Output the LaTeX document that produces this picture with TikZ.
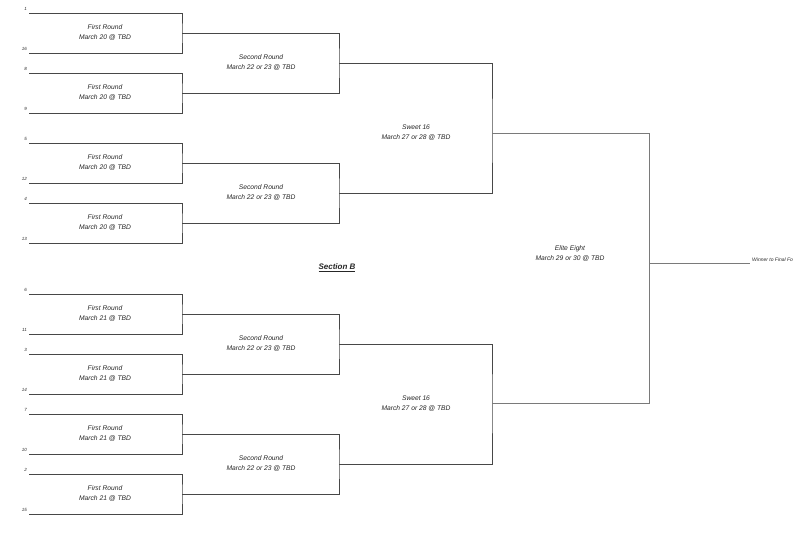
\documentclass[tikz,border=0pt]{standalone}
\usepackage{fontspec}
\setmainfont{Liberation Sans}
\usepackage{tikz}

\begin{document}
\begin{tikzpicture}[x=1pt,y=-1pt,
  bracket/.style={draw=black!72,line width=1.0pt},
  lastline/.style={draw=black!52,line width=1.0pt},
  game/.style={font=\fontsize{6.7}{10}\selectfont\itshape,align=center,text=black!85,inner sep=0pt},
  seed/.style={font=\fontsize{4.5}{5}\selectfont\itshape,anchor=base east,inner sep=0pt,text=black!85}]
  \useasboundingbox (0,0) rectangle (794,554);
  % first round
  \foreach \i/\ya/\yb/\sa/\sb/\d in {1/13/53/1/16/20, 2/73/113/8/9/20, 3/143/183/5/12/20, 4/203/243/4/13/20,
      5/294/334/6/11/21, 6/354/394/3/14/21, 7/414/454/7/10/21, 8/474/514/2/15/21}{
    \coordinate (a\i) at (29,\ya);
    \coordinate (b\i) at (29,\yb);
    \coordinate (w\i) at (182,{(\ya+\yb)/2});
    \node[seed] (sa\i) at (27,\ya-2.5) {\sa};
    \node[seed] (sb\i) at (27,\yb-2.5) {\sb};
    \draw[bracket] (a\i) -| (w\i) |- (b\i);
    \node[game] (fr\i) at (105,{(\ya+\yb)/2}) {First Round\\March \d\ @ TBD};
  }
  % second round
  \foreach \j/\p/\q/\y in {1/1/2/63, 2/3/4/193, 3/5/6/344, 4/7/8/464}{
    \coordinate (v\j) at (339,\y);
    \draw[bracket] (w\p) -| (v\j) |- (w\q);
    \node[game] (sr\j) at (261,\y) {Second Round\\March 22 or 23 @ TBD};
  }
  % sweet 16
  \coordinate (u1) at (492,133);
  \coordinate (u2) at (492,403);
  \draw[bracket] (v1) -| (u1) |- (v2);
  \draw[bracket] (v3) -| (u2) |- (v4);
  \node[game] (ss1) at (416,133) {Sweet 16\\March 27 or 28 @ TBD};
  \node[game] (ss2) at (416,404) {Sweet 16\\March 27 or 28 @ TBD};
  % elite eight
  \coordinate (e1) at (649,263);
  \coordinate (fin) at (750,263);
  \draw[lastline] (u1) -| (e1) |- (u2);
  \draw[lastline] (e1) -- (fin);
  \node[game] (ee) at (570,254) {Elite Eight\\March 29 or 30 @ TBD};
  \node[font=\fontsize{5}{6}\selectfont\itshape,anchor=base west,inner sep=0pt,text=black!85] (winner) at (752,261) {Winner to Final Fo};
  \node[font=\fontsize{8}{9}\selectfont\bfseries\itshape,text=black!85] (secB) at (337,268) {\underline{Section B}};
\end{tikzpicture}
\end{document}
